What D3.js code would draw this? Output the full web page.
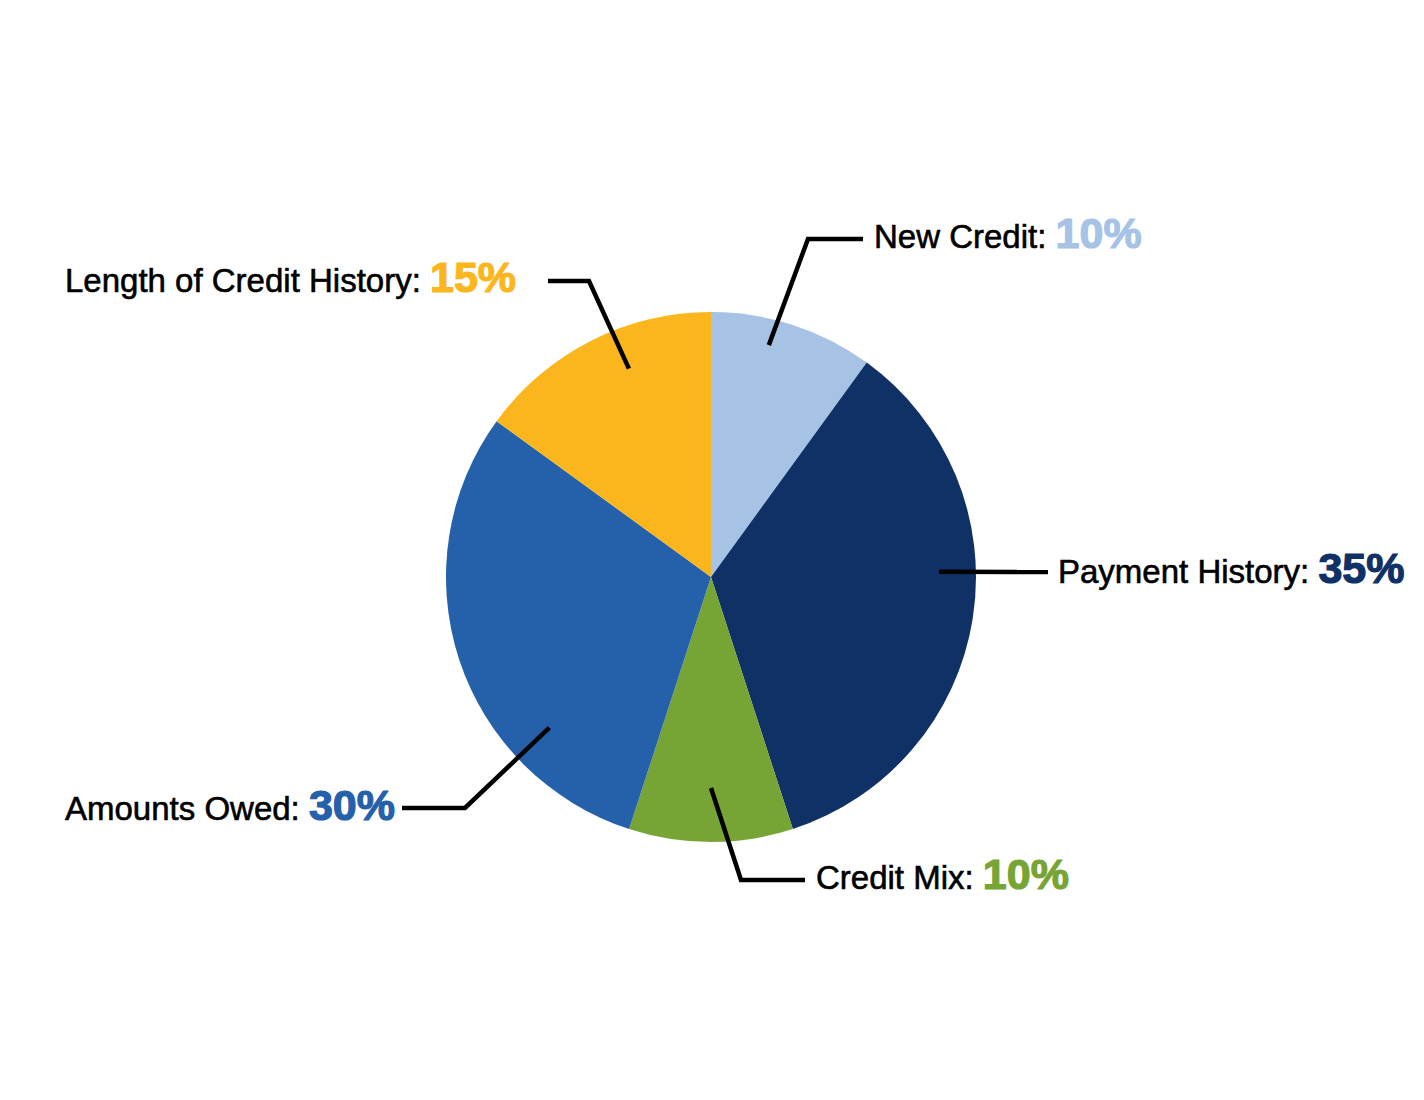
<!DOCTYPE html>
<html><head><meta charset="utf-8">
<script src="https://cdn.jsdelivr.net/npm/d3@7"></script>
<style>html,body{margin:0;padding:0;background:#fff;}</style>
</head><body>
<svg id="c" width="1424" height="1100"></svg>
<script>
const categories = ["New Credit", "Payment History", "Credit Mix", "Amounts Owed", "Length of Credit History"];
const values = [10, 35, 10, 30, 15];
const colors = ["#a6c3e6", "#0f3166", "#76a535", "#2560ab", "#fcb61d"];

// label layout (annotation placement)
const labelLayout = [
  {anchorDeg: 14, anchorR: 239, path: [[808,239],[863,239]], tx: 874, ty: 248},
  {anchorDeg: 88.7, anchorR: 228, path: [[1048,572]], tx: 1058, ty: 583},
  {anchorDeg: 180, anchorR: 211, path: [[741,880],[805,880]], tx: 816, ty: 889},
  {anchorDeg: 227, anchorR: 221, path: [[465,808],[402,808]], tx: 65, ty: 820},
  {anchorDeg: 338.5, anchorR: 224, path: [[589,281],[548,281]], tx: 65, ty: 292}
];

const svg = d3.select("#c");
const cx = 711, cy = 577, R = 265;
const g = svg.append("g").attr("transform", `translate(${cx},${cy})`);

const pie = d3.pie().sort(null).value(d => d)(values);
const arc = d3.arc().innerRadius(0).outerRadius(R);

g.selectAll("path.slice").data(pie).join("path")
  .attr("class","slice")
  .attr("d", arc)
  .attr("fill", (d,i) => colors[i]);

const line = d3.line();
labelLayout.forEach((L, i) => {
  const a = L.anchorDeg * Math.PI / 180;
  const p0 = [cx + L.anchorR * Math.sin(a), cy - L.anchorR * Math.cos(a)];
  svg.append("path")
    .attr("d", line([p0, ...L.path]))
    .attr("fill","none").attr("stroke","#000").attr("stroke-width",4.5)
    .attr("stroke-linejoin","miter").attr("stroke-linecap","butt");
  const t = svg.append("text").attr("x", L.tx).attr("y", L.ty).attr("text-anchor", "start");
  t.append("tspan").text(categories[i] + ": ")
    .attr("font-family","'Liberation Sans', Arial, sans-serif")
    .attr("font-size", 33).attr("fill","#000")
    .attr("stroke","#000").attr("stroke-width",0.6);
  t.append("tspan").text(values[i] + "%")
    .attr("font-family","'Liberation Sans', Arial, sans-serif")
    .attr("font-weight","bold")
    .attr("font-size", 43).attr("fill", colors[i])
    .attr("stroke", colors[i]).attr("stroke-width",1.2);
});
</script>
</body></html>
